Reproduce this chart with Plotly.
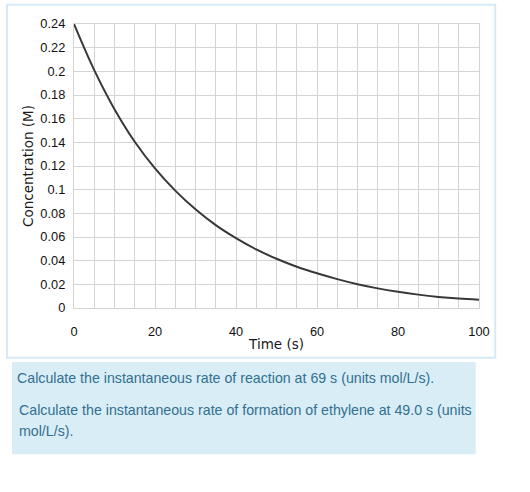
import plotly.graph_objects as go

# Data
time_s = [0, 5, 10, 15, 20, 25, 30, 35, 40, 45, 50, 55, 60, 65, 70, 75, 80, 85, 90, 95, 100]
conc_M = [0.240, 0.201, 0.168, 0.1405, 0.118, 0.0992, 0.0834, 0.0700, 0.0590, 0.0495, 0.0416,
          0.0349, 0.0293, 0.0244, 0.0201, 0.0166, 0.0137, 0.0113, 0.0094, 0.0080, 0.0070]

x_tick_vals = [0, 20, 40, 60, 80, 100]
x_tick_text = ["0", "20", "40", "60", "80", "100"]
y_tick_vals = [0, 0.02, 0.04, 0.06, 0.08, 0.10, 0.12, 0.14, 0.16, 0.18, 0.20, 0.22, 0.24]
y_tick_text = ["0", "0.02", "0.04", "0.06", "0.08", "0.1", "0.12", "0.14", "0.16", "0.18", "0.2", "0.22", "0.24"]

question_1 = "Calculate the instantaneous rate of reaction at 69 s (units mol/L/s)."
question_2a = "Calculate the instantaneous rate of formation of ethylene at 49.0 s (units"
question_2b = "mol/L/s)."

W, H = 530, 492
L, R, T, B = 74, 479.3, 24.3, 308.3
PW, PH = R - L, B - T


def px(x):
    return (x - L) / PW


def py(y):
    return (B - y) / PH


GRID = "#d4d4d4"
TICK_FONT = dict(size=12.8, color="#111111", family="Liberation Sans, Arial")
TITLE_FONT = dict(size=13.5, family="DejaVu Sans", color="#1a1a1a")

fig = go.Figure()
fig.add_trace(go.Scatter(
    x=time_s, y=conc_M, mode="lines",
    line=dict(color="#383838", width=2, shape="spline", smoothing=1.0),
    hoverinfo="skip", showlegend=False,
))

fig.update_layout(
    width=W, height=H,
    margin=dict(l=L, r=W - R, t=T, b=H - B, pad=0),
    paper_bgcolor="white", plot_bgcolor="white",
    showlegend=False,
    font=dict(family="Liberation Sans, Arial, sans-serif", color="#222222"),
    xaxis=dict(
        range=[0, 100], tickvals=x_tick_vals, ticktext=x_tick_text,
        showgrid=True, gridcolor=GRID, gridwidth=1.3,
        minor=dict(dtick=5, tick0=0, showgrid=True, gridcolor=GRID, gridwidth=1.3),
        zeroline=False, showline=True, linecolor=GRID, linewidth=1.3, mirror=True,
        ticks="", ticklabelstandoff=11,
        tickfont=TICK_FONT,
        title=dict(text="Time (s)", standoff=2, font=TITLE_FONT),
        fixedrange=True,
    ),
    yaxis=dict(
        range=[0, 0.24], tickvals=y_tick_vals, ticktext=y_tick_text,
        showgrid=True, gridcolor=GRID, gridwidth=1.3,
        zeroline=False, showline=True, linecolor=GRID, linewidth=1.3, mirror=True,
        ticks="", ticklabelstandoff=5,
        tickfont=TICK_FONT,
        title=dict(text="Concentration (M)", standoff=3, font=TITLE_FONT),
        fixedrange=True,
    ),
)

# outer frame of the figure image
fig.add_shape(type="rect", xref="paper", yref="paper",
              x0=px(7), x1=px(495.5), y0=py(358), y1=py(5),
              line=dict(color="#d6eaf6", width=2), fillcolor="rgba(0,0,0,0)", layer="below")
# question box
fig.add_shape(type="rect", xref="paper", yref="paper",
              x0=px(12), x1=px(476), y0=py(454.5), y1=py(362.3),
              line=dict(width=0), fillcolor="#d9edf7", layer="below")

TEXT_FONT = dict(family="Liberation Sans, Arial, sans-serif", size=14.2, color="#31708f")
for txt, xx, yy in [(question_1, 15, 378.5), (question_2a, 17, 410), (question_2b, 17, 431)]:
    fig.add_annotation(text=txt, xref="paper", yref="paper", x=px(xx), y=py(yy),
                       xanchor="left", yanchor="middle", showarrow=False,
                       font=TEXT_FONT, align="left")

fig.write_html("out.html", config={"displayModeBar": False},
               post_script="document.body.style.margin='0';document.body.style.padding='0';")
